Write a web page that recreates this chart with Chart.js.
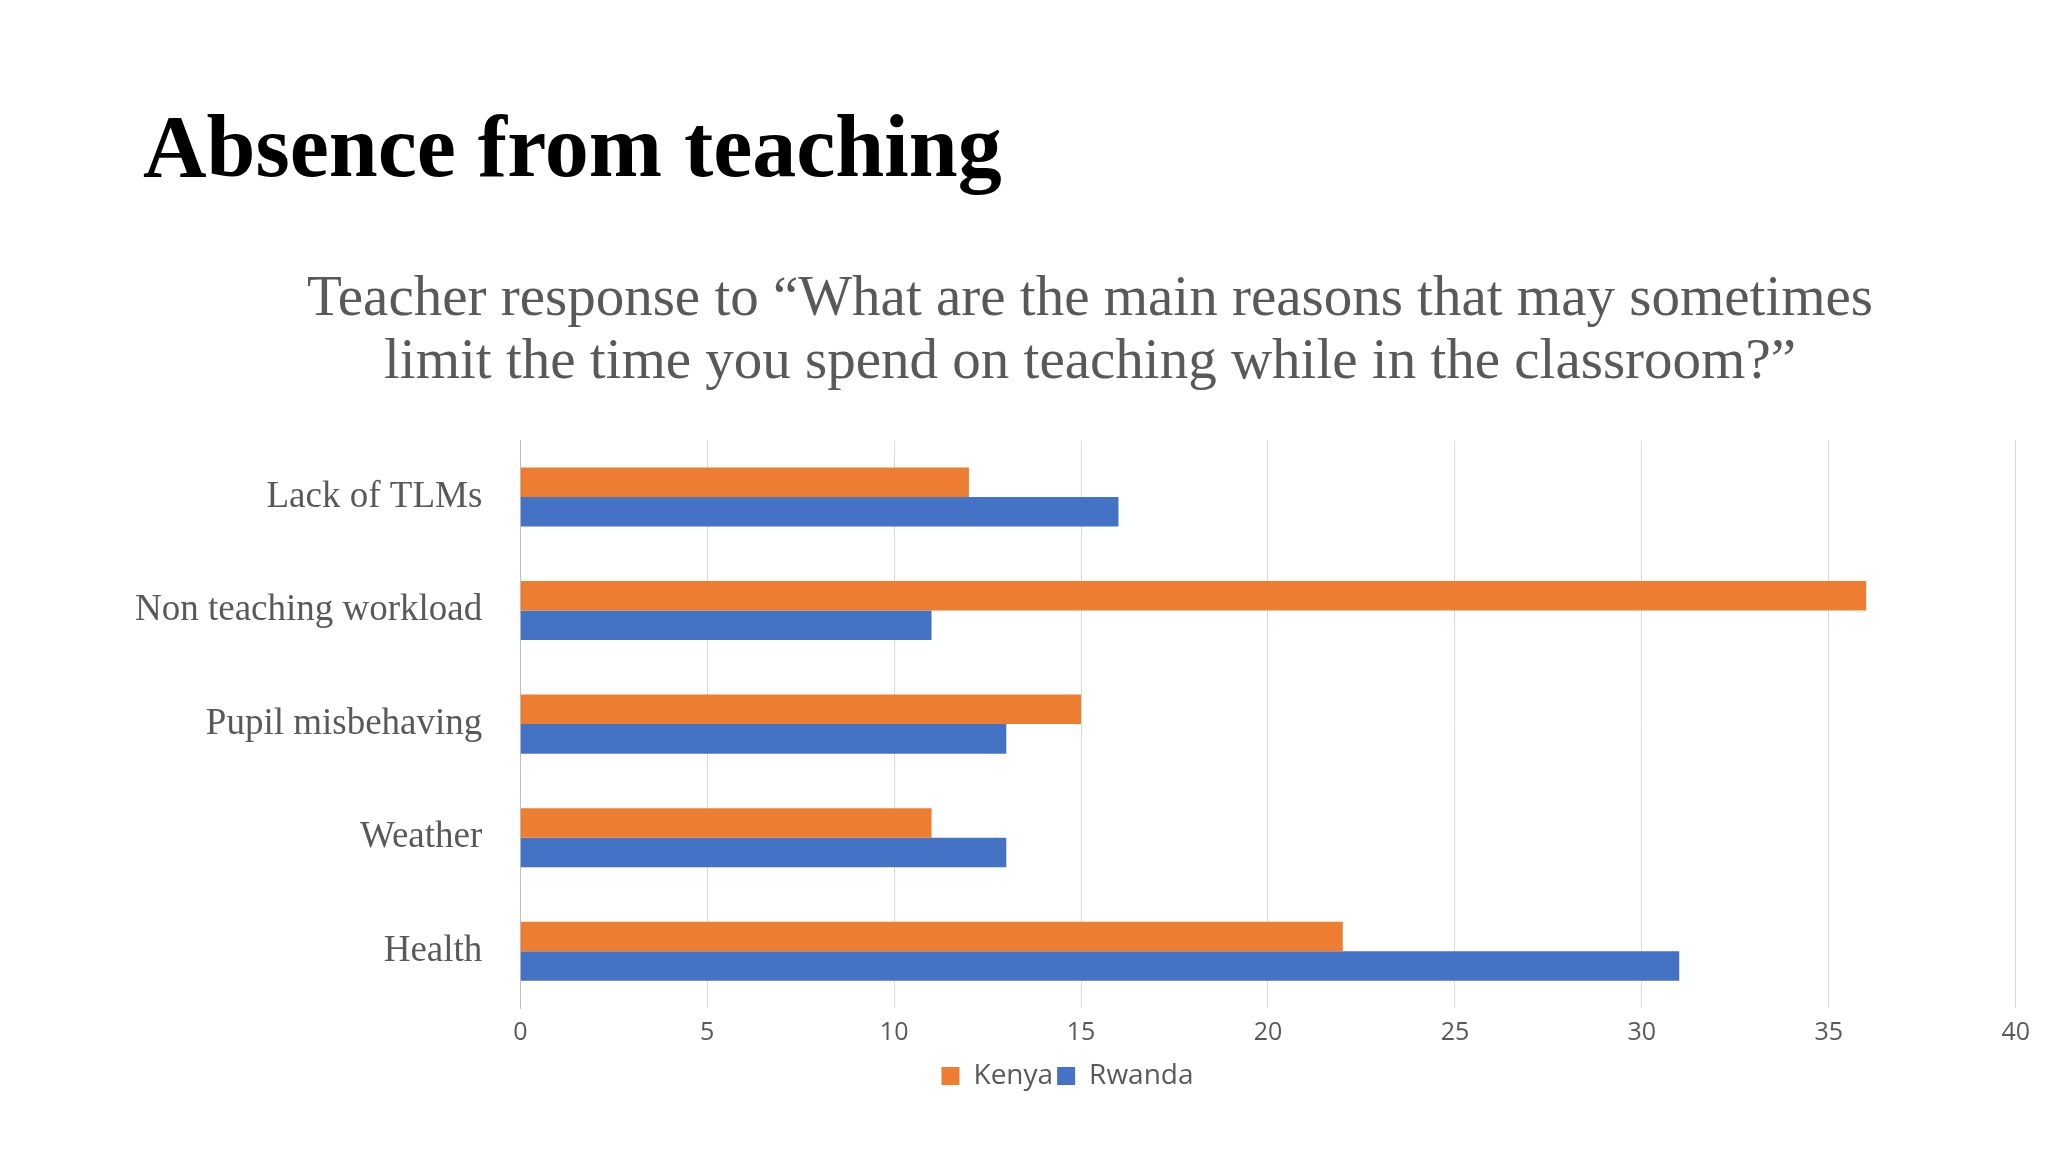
<!DOCTYPE html>
<html>
<head>
<meta charset="utf-8">
<script src="https://cdn.jsdelivr.net/npm/chart.js@4"></script>
<style>
body{margin:0;width:2048px;height:1152px;background:#fff;overflow:hidden;position:relative;}
#title{position:absolute;left:143px;top:96px;font:bold 88px "Liberation Serif","DejaVu Serif",serif;color:#000;}
#sub{position:absolute;left:90px;width:2000px;top:264px;text-align:center;font:57px "Liberation Serif","DejaVu Serif",serif;color:#595959;line-height:63px;}
#wrap{position:absolute;left:105px;top:388px;width:1935px;height:712px;}
</style>
</head>
<body>
<div id="title">Absence from teaching</div>
<div id="sub">Teacher response to “What are the main reasons that may sometimes<br>limit the time you spend on teaching while in the classroom?”</div>
<div id="wrap"><canvas id="c"></canvas></div>
<script>
const categories=['Lack of TLMs','Non teaching workload','Pupil misbehaving','Weather','Health'];
const kenya=[12,36,15,11,22];
const rwanda=[16,11,13,13,31];

new Chart(document.getElementById('c'),{
type:'bar',
data:{
labels:categories,
datasets:[{
label:'Kenya',
data:kenya,
backgroundColor:'#ED7D31',
categoryPercentage:0.52,
barPercentage:1
},{
label:'Rwanda',
data:rwanda,
backgroundColor:'#4472C4',
categoryPercentage:0.52,
barPercentage:1
}]
},
options:{
indexAxis:'y',
responsive:true,
maintainAspectRatio:false,
animation:false,
layout:{padding:{right:10}},
scales:{
x:{min:0,max:40,ticks:{stepSize:5,color:'#595959',font:{family:'Open Sans',size:25},padding:10},
grid:{color:'#d9d9d9',drawTicks:false},border:{display:false}},
y:{ticks:{color:'#595959',font:{family:'Liberation Serif',size:37},padding:30},
grid:{display:false},border:{color:'#bfbfbf'}}
},
plugins:{
legend:{position:'bottom',labels:{color:'#595959',font:{family:'Open Sans',size:28},boxWidth:18,boxHeight:18,padding:4}},
tooltip:{enabled:false}
}
}
});
</script>
</body>
</html>
